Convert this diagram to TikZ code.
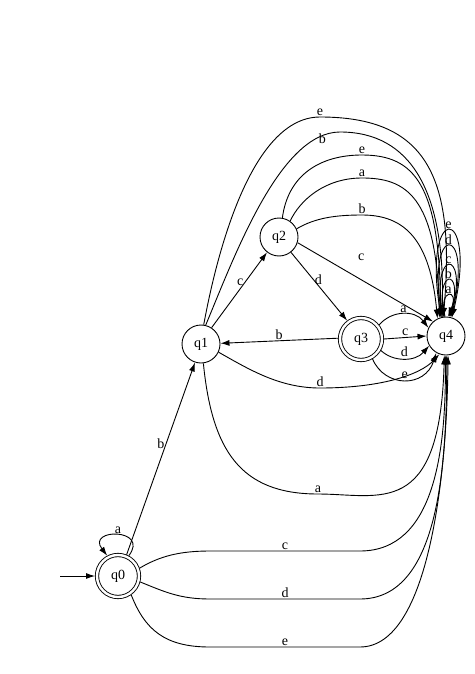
\documentclass[tikz,border=0pt]{standalone}
\usepackage{fontspec}
\setmainfont{Liberation Serif}
\usetikzlibrary{arrows.meta}

\begin{document}
\begin{tikzpicture}[x=1pt,y=-1pt,line width=0.9pt,>={Latex[length=9pt,width=6pt]},
    font=\fontsize{14}{16}\selectfont,
    state/.style={circle,draw,minimum size=38pt,inner sep=0pt},
    accept/.style={state,minimum size=42pt,double,double distance=2.4pt,outer sep=2pt},
    lbl/.style={inner sep=1pt}]
    \useasboundingbox (0,0) rectangle (474,674);

    \node[accept] (q0) at (118,576) {q0};
    \node[state] (q1) at (201,344) {q1};
    \node[state] (q2) at (279,237) {q2};
    \node[accept] (q3) at (361,339) {q3};
    \node[state] (q4) at (446,336) {q4};
    \coordinate (start) at (60,576);

    \draw[->] (start) -- (q0.west);
    \draw[->] (q0.62) .. controls (150,528) and (86,528) .. (q0.118) node[pos=.5,above,lbl] {a};
    \draw[->] (q0.68) -- (q1.-108) node[pos=.575,left,lbl] {b};
    \draw[->] (q0.20) .. controls (160,556) and (180,551) .. (210,551) -- (360,551) node[midway,above,lbl] {c}
        .. controls (435,551) and (446,450) .. (q4.-92);
    \draw[->] (q0.-15) .. controls (165,592) and (180,599) .. (210,599) -- (360,599) node[midway,above,lbl] {d}
        .. controls (438,599) and (447,470) .. (q4.-88);
    \draw[->] (q0.-55) .. controls (145,630) and (165,647) .. (210,647) -- (360,647) node[midway,above,lbl] {e}
        .. controls (430,647) and (447,470) .. (q4.-84);

    \draw[->] (q1.57) -- (q2.232) node[pos=.6,left,lbl] {c};
    \draw[->] (q1.82) .. controls (212,280) and (245,117) .. (320,117) node[above,lbl] {e}
        .. controls (425,117) and (456,175) .. (q4.98);
    \draw[->] (q1.76) .. controls (235,255) and (280,132) .. (340,132) node[pos=.9,yshift=-3pt,lbl] {b}
        .. controls (410,132) and (446,190) .. (q4.102);
    \draw[->] (q1.-25) .. controls (250,370) and (280,388) .. (320,388) node[above,lbl] {d}
        .. controls (380,388) and (420,375) .. (q4.-110);
    \draw[->] (q1.-83) .. controls (212,450) and (240,494) .. (318,494) node[above,lbl] {a}
        .. controls (380,494) and (440,520) .. (q4.-95);

    \draw[->] (q2.80) .. controls (288,175) and (320,155) .. (362,155) node[above,lbl] {e}
        .. controls (415,155) and (440,185) .. (q4.106);
    \draw[->] (q2.55) .. controls (300,200) and (325,178) .. (362,178) node[above,lbl] {a}
        .. controls (405,178) and (437,195) .. (q4.110);
    \draw[->] (q2.25) .. controls (315,218) and (335,215) .. (362,215) node[above,lbl] {b}
        .. controls (405,215) and (430,240) .. (q4.116);
    \draw[->] (q2.-17) -- (q4.132) node[pos=.47,above=18pt,lbl] {c};
    \draw[->] (q2.-52) -- (q3.127) node[pos=.4,right,lbl] {d};

    \draw[->] (q3.178) -- (q1.2) node[midway,above,lbl] {b};
    \draw[->] (q3.38) .. controls (392,310) and (415,310) .. (q4.155) node[pos=.5,above,lbl] {a};
    \draw[->] (q3.east) -- (q4.west) node[midway,above,lbl] {c};
    \draw[->] (q3.-30) .. controls (393,362) and (415,362) .. (q4.-150) node[pos=.5,above,lbl] {d};
    \draw[->] (q3.-60) .. controls (385,388) and (425,388) .. (q4.-120) node[pos=.5,above,lbl] {e};

    \foreach \lab/\pa/\pb/\py/\dx in {e/104/72/201/30,d/101/75/222/25,c/98/78/248/20,b/95/81/268/15,a/93/84/288/11}
      \draw[->] (q4.\pa) .. controls (449-\dx,\py) and (449+\dx,\py) .. (q4.\pb) node[pos=.5,above,lbl] {\lab};
\end{tikzpicture}
\end{document}
